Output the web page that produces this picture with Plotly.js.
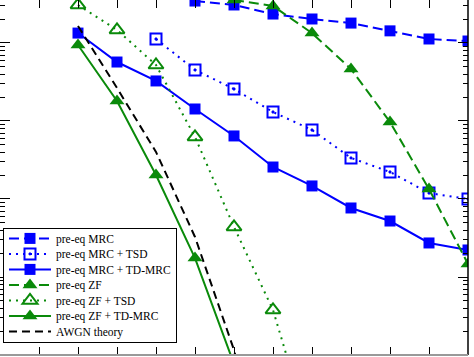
<!DOCTYPE html>
<html>
<head>
<meta charset="utf-8">
<script src="https://cdn.plot.ly/plotly-3.0.1.min.js"></script>
<style>
html,body{margin:0;padding:0;background:#fff;}
#chart{width:474px;height:357px;}
</style>
</head>
<body>
<div id="chart"></div>
<script>
// SNR grid (dB) and BER values
const snrMRC      = [10, 12, 14, 16, 18, 20, 22, 24];
const berMRC      = [0.345, 0.307, 0.235, 0.203, 0.180, 0.143, 0.1125, 0.106];

const snrMRCTSD   = [8, 10, 12, 14, 16, 18, 20, 22, 24];
const berMRCTSD   = [0.1125, 0.0451, 0.0257, 0.01303, 0.00767, 0.00336, 0.00222, 0.00119, 0.00100];

const snrMRCTD    = [4, 6, 8, 10, 12, 14, 16, 18, 20, 22, 24];
const berMRCTD    = [0.134, 0.0570, 0.0326, 0.01425, 0.00643, 0.00257, 0.00147, 0.000767, 0.000522, 0.000273, 0.000222];

const snrZF       = [12, 14, 16, 18, 20, 22, 24];
const berZF       = [0.356, 0.298, 0.134, 0.0464, 0.0097, 0.00134, 0.000147];

const snrZFTSD    = [4, 6, 8, 10, 12, 14, 16];
const berZFTSD    = [0.307, 0.147, 0.0522, 0.00624, 0.000438, 3.78e-5, 7.9e-7];

const snrZFTD     = [4, 6, 8, 10, 12];
const berZFTD     = [0.0942, 0.01804, 0.00203, 0.000175, 7.67e-6];

const snrAWGN     = [4, 6, 8, 10, 12, 14];
const berAWGN     = [0.165, 0.0265, 0.00401, 0.000326, 1.16e-5, 1.38e-7];

const names = ['pre-eq MRC', 'pre-eq MRC + TSD', 'pre-eq MRC + TD-MRC',
               'pre-eq ZF', 'pre-eq ZF + TSD', 'pre-eq ZF + TD-MRC', 'AWGN theory'];

const BLUE = '#0000ff', GREEN = '#0a8a0a';
const SERIF = 'Liberation Serif, Times New Roman, serif';

const traces = [
  {x: snrMRC, y: berMRC, name: names[0], mode: 'lines+markers',
   line: {color: BLUE, width: 2, dash: '10px,5px'},
   marker: {symbol: 'square', size: 11, color: BLUE}},
  {x: snrMRCTSD, y: berMRCTSD, name: names[1], mode: 'lines+markers',
   line: {color: BLUE, width: 2, dash: '2px,5px'},
   marker: {symbol: 'square-open-dot', size: 11, color: BLUE, line: {width: 2, color: BLUE}}},
  {x: snrMRCTD, y: berMRCTD, name: names[2], mode: 'lines+markers',
   line: {color: BLUE, width: 2},
   marker: {symbol: 'square', size: 11, color: BLUE}},
  {x: snrZF, y: berZF, name: names[3], mode: 'lines+markers',
   line: {color: GREEN, width: 2, dash: '10px,5px'},
   marker: {symbol: 'triangle-up', size: 13, color: GREEN}},
  {x: snrZFTSD, y: berZFTSD, name: names[4], mode: 'lines+markers',
   line: {color: GREEN, width: 2, dash: '2px,5px'},
   marker: {symbol: 'triangle-up-open', size: 13, color: GREEN, line: {width: 2, color: GREEN}}},
  {x: snrZFTD, y: berZFTD, name: names[5], mode: 'lines+markers',
   line: {color: GREEN, width: 2},
   marker: {symbol: 'triangle-up', size: 13, color: GREEN}},
  {x: snrAWGN, y: berAWGN, name: names[6], mode: 'lines',
   line: {color: '#000000', width: 2, dash: '8px,5px'}}
];

const layout = {
  width: 474, height: 357,
  margin: {l: 0, r: 6, t: 0, b: 2, pad: 0, autoexpand: false},
  paper_bgcolor: '#ffffff', plot_bgcolor: '#ffffff',
  showlegend: true,
  font: {family: SERIF, size: 11.5, color: '#000'},
  xaxis: {
    range: [0, 24], dtick: 2, tick0: 0,
    ticks: 'inside', ticklen: 8, tickwidth: 1, tickcolor: '#000',
    mirror: 'ticks', showline: false, showgrid: false, zeroline: false,
    showticklabels: false
  },
  yaxis: {
    type: 'log', range: [-5, -0.449], dtick: 1,
    ticks: 'inside', ticklen: 10, tickwidth: 1, tickcolor: '#000',
    mirror: 'ticks', showline: false, showgrid: false, zeroline: false,
    showticklabels: false,
    minor: {ticks: 'inside', ticklen: 5, tickwidth: 1, tickcolor: '#000', dtick: 'D1', showgrid: false}
  },
  legend: {
    x: 0.0064, xanchor: 'left', y: 0.358, yanchor: 'top',
    bgcolor: '#ffffff', bordercolor: '#000000', borderwidth: 1,
    font: {family: SERIF, size: 11.5, color: '#000'},
    itemwidth: 42, tracegroupgap: 0, maxheight: 400
  },
  shapes: [
    {type: 'line', xref: 'paper', yref: 'paper', x0: 1, x1: 1, y0: 0, y1: 1,
     line: {color: '#000', width: 1.5}},
    {type: 'line', xref: 'paper', yref: 'paper', x0: 0, x1: 1, y0: 0, y1: 0,
     line: {color: '#999', width: 2}}
  ]
};

Plotly.newPlot('chart', traces, layout, {displayModeBar: false, staticPlot: true}).then(function (gd) {
  // tighten legend row spacing to match the reference (~15.5 px per row)
  const leg = gd.querySelector('g.legend');
  if (!leg) return;
  const items = leg.querySelectorAll('g.traces');
  const rowH = 15.5, firstY = 10.5;
  items.forEach(function (g, i) {
    const t = g.getAttribute('transform') || '';
    const m = /translate\(\s*([-\d.e]+)[ ,]+([-\d.e]+)\s*\)/.exec(t);
    const x = m ? parseFloat(m[1]) : 0;
    g.setAttribute('transform', 'translate(' + x + ',' + (firstY + i * rowH) + ')');
  });
  const bg = leg.querySelector('rect.bg');
  if (bg) bg.setAttribute('height', firstY + (items.length - 1) * rowH + 11);
});
</script>
</body>
</html>
